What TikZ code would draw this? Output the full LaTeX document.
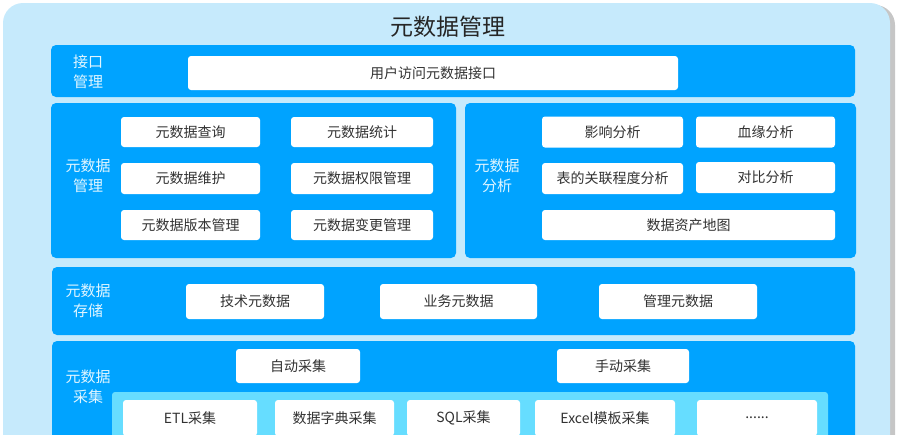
\documentclass[tikz,border=0pt]{standalone}
\usepackage{fontspec}
\newfontfamily\cjk{Noto Sans CJK SC}
\begin{document}
\begin{tikzpicture}[x=1pt,y=-1pt,line join=round]
	\definecolor{skyback}{RGB}{198,234,252}
	\definecolor{panelblue}{RGB}{0,163,255}
	\definecolor{cyanband}{RGB}{102,221,255}
	\definecolor{boxtext}{RGB}{50,50,50}
	\definecolor{tagtext}{RGB}{225,246,255}
	\def\sixdots{......}
	\tikzset{
		panel/.style={fill=panelblue,rounded corners=5pt},
		itembox/.style={fill=white,rounded corners=3pt,inner sep=0pt,
			font=\cjk\fontsize{14}{16}\selectfont,text=boxtext},
		tag/.style={align=center,font=\cjk\fontsize{15}{20}\selectfont,text=tagtext}
	}
	\useasboundingbox (0,0) rectangle (900,434);
	
	% background frame
	\fill[gray!45,rounded corners=20pt] (8,5) rectangle (895,470);
	\fill[skyback,rounded corners=20pt] (3,3) rectangle (890,470);
	\node[font=\cjk\fontsize{23}{26}\selectfont,text=black!85] (title) at (448,27) {元数据管理};
	
	% layers
	\fill[panel] (51,45) rectangle (855,97);
	\fill[panel] (51,103) rectangle (456,258);
	\fill[panel] (465,103) rectangle (856,258);
	\fill[panel] (52,267) rectangle (855,335);
	\fill[panel] (52,341) rectangle (855,470);
	\fill[cyanband,rounded corners=3pt] (112,392) rectangle (828,470);
	
	\node[tag] (tagapi) at (88,72) {接口\\管理};
	\node[tag] (tagmgr) at (88,176) {元数据\\管理};
	\node[tag] (tagana) at (497,176) {元数据\\分析};
	\node[tag] (tagsto) at (88,301) {元数据\\存储};
	\node[tag] (tagcol) at (88,387) {元数据\\采集};
	
	\node[itembox,minimum width=490pt,minimum height=34pt] (api) at (433,73) {用户访问元数据接口};
	
	%\draw[red] (0,0) grid[step=50] (900,434);
	\foreach \n/\x/\y/\w/\h/\t in {
		query/190.5/132/139/30/元数据查询,
		stat/362/132/142/30/元数据统计,
		keep/190.5/178.5/139/31/元数据维护,
		right/362/178.5/142/31/元数据权限管理,
		ver/190.5/225/139/30/元数据版本管理,
		chg/362/225/142/30/元数据变更管理,
		impact/612.5/132/141/31/影响分析,
		lineage/765.5/132/139/31/血缘分析,
		relate/612.5/178.5/141/31/表的关联程度分析,
		compare/765.5/177.5/139/31/对比分析,
		assetmap/688.5/225/293/30/数据资产地图,
		tech/255/301.5/138/35/技术元数据,
		biz/458.5/301.5/157/35/业务元数据,
		admin/678/301.5/158/35/管理元数据,
		auto/298/366/124/34/自动采集,
		manual/623/366/132/34/手动采集,
		etl/190/418/134/36/ETL采集,
		dict/334.5/418/119/36/数据字典采集,
		sql/463.5/418/113/36/SQL采集,
		excel/605/418/140/36/Excel模板采集,
		more/757/418/120/36/\sixdots}{
		\node[itembox,minimum width=\w pt,minimum height=\h pt] (\n) at (\x,\y) {\t};
	}
\end{tikzpicture}
\end{document}
